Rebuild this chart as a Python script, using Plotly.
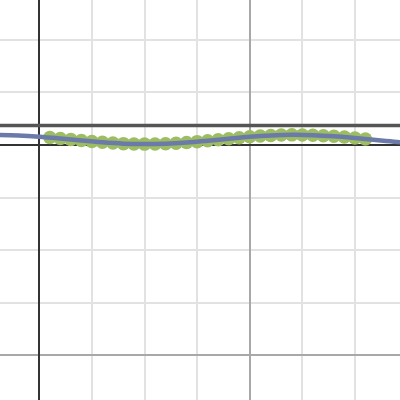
import plotly.graph_objects as go

# sampled points (green)
point_x = [0.2, 0.4, 0.6, 0.8, 1.0, 1.2, 1.4, 1.6, 1.8, 2.0,
           2.2, 2.4, 2.6, 2.8, 3.0, 3.2, 3.4, 3.6, 3.8, 4.0,
           4.2, 4.4, 4.6, 4.8, 5.0, 5.2, 5.4, 5.6, 5.8, 6.0, 6.2]
point_y = [0.142, 0.124, 0.105, 0.085, 0.067, 0.051, 0.037, 0.026, 0.020, 0.017,
           0.019, 0.025, 0.034, 0.048, 0.064, 0.082, 0.101, 0.120, 0.139, 0.156,
           0.170, 0.181, 0.189, 0.193, 0.192, 0.187, 0.178, 0.166, 0.151, 0.133, 0.114]

# fitted curve (blue)
curve_x = [-0.8, -0.4, 0.0, 0.4, 0.8, 1.2, 1.6, 2.0, 2.4, 2.8, 3.2, 3.6,
           4.0, 4.4, 4.8, 5.2, 5.6, 6.0, 6.4, 6.8, 7.2]
curve_y = [0.193, 0.183, 0.159, 0.124, 0.085, 0.051, 0.026, 0.017, 0.025, 0.048, 0.082, 0.120,
           0.156, 0.181, 0.193, 0.187, 0.166, 0.133, 0.095, 0.059, 0.031]

# horizontal reference level
level = 0.37

fig = go.Figure()

fig.add_trace(go.Scatter(
    x=point_x, y=point_y, mode="markers",
    marker=dict(size=13.5, color="#9dbd62", line=dict(width=0)),
    hoverinfo="skip"
))

fig.add_trace(go.Scatter(
    x=curve_x, y=curve_y, mode="lines",
    line=dict(color="#6b7aa8", width=4.5, shape="spline"),
    hoverinfo="skip"
))

fig.add_hline(y=level, line=dict(color="#555555", width=3.5))

axis_common = dict(
    dtick=4, tick0=0,
    showgrid=True, gridcolor="#a8a8a8", gridwidth=1.5,
    minor=dict(dtick=1, tick0=0, showgrid=True, gridcolor="#e2e2e2", gridwidth=1.5),
    zeroline=True, zerolinecolor="#333333", zerolinewidth=2,
    showticklabels=False, ticks="", showline=False,
)

fig.update_xaxes(range=[-0.747, 6.857], **axis_common)
fig.update_yaxes(range=[-4.848, 2.757], **axis_common)

fig.update_layout(
    width=400, height=400,
    margin=dict(l=0, r=0, t=0, b=0),
    paper_bgcolor="white", plot_bgcolor="white",
    showlegend=False,
)

# drop the page's default body margin so the plot sits at the window corner
fig.write_html("out.html", config={"displayModeBar": False},
               post_script="document.body.style.margin='0';document.body.style.overflow='hidden';")
